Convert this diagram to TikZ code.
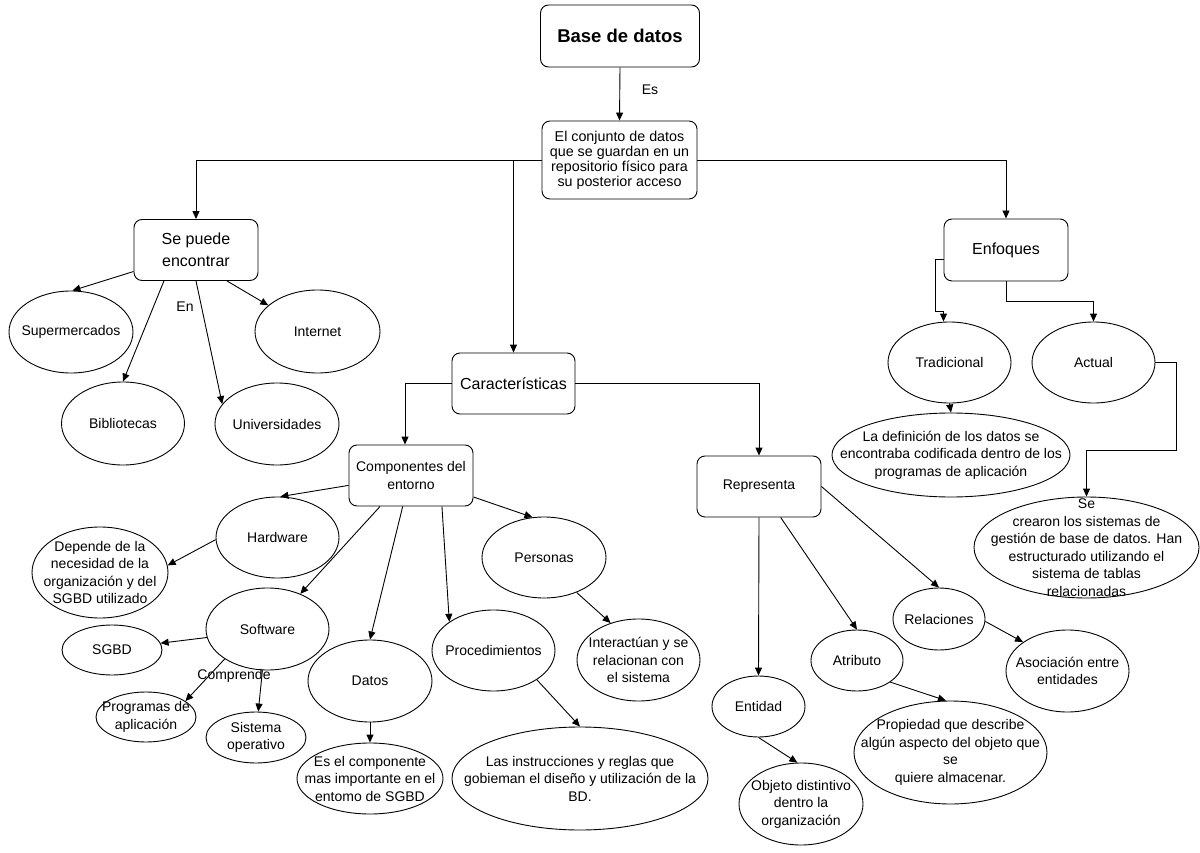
\documentclass[tikz,border=0pt]{standalone}
\usepackage{fontspec}
\setmainfont{Liberation Sans}
\usetikzlibrary{arrows.meta,shapes.geometric,calc}
\newcommand\ov[6]{%
  \node[oval, minimum width=#4pt, minimum height=#5pt] (#1) at (#2,#3) {};
  \node[txt] (#1t) at (#1.center) {#6};}
\begin{document}
\begin{tikzpicture}[x=1pt,y=-1pt,
  every node/.style={font=\fontsize{14}{17.5}\selectfont},
  rbox/.style={draw, rounded corners=8pt, align=center, inner sep=2pt, line width=0.9pt},
  oval/.style={draw, ellipse, inner sep=0pt, line width=0.9pt},
  txt/.style={align=center, inner sep=0pt},
  arr/.style={-{Triangle[length=8pt,width=7pt]}, line width=0.9pt},
  lbl/.style={inner sep=1pt}]
\useasboundingbox (0,0) rectangle (1200,853);
\fill[white] (0,0) rectangle (1200,853);

% boxes
\node[rbox, minimum width=159pt, minimum height=62pt, font=\bfseries\fontsize{18.5}{22}\selectfont] (base) at (620,36) {Base de datos};
\node[rbox, minimum width=155pt, minimum height=78pt, font=\fontsize{14.3}{15}\selectfont] (conj) at (619.5,160) {El conjunto de datos\\que se guardan en un\\repositorio físico para\\su posterior acceso};
\node[rbox, minimum width=124pt, minimum height=61pt, font=\fontsize{16}{22}\selectfont] (se) at (196,250) {Se puede\\encontrar};
\node[rbox, minimum width=123pt, minimum height=61pt, font=\fontsize{16}{20}\selectfont] (car) at (513.5,383.5) {Características};
\node[rbox, minimum width=124pt, minimum height=62pt, font=\fontsize{16}{20}\selectfont] (enf) at (1006,250) {Enfoques};
\node[rbox, minimum width=124pt, minimum height=61pt] (comp) at (411,475.5) {Componentes del\\entorno};
\node[rbox, minimum width=124pt, minimum height=61pt] (rep) at (759,486.5) {Representa};

% ellipses
\ov{super}{71}{332}{124}{82}{Supermercados}
\ov{bib}{123}{423.5}{123}{83}{Bibliotecas}
\ov{univ}{277}{424}{124}{82}{Universidades}
\ov{inet}{317.5}{331.5}{125}{83}{Internet}
\ov{hw}{277.5}{537.5}{123}{81}{Hardware}
\ov{dep}{100}{572.5}{136}{91}{Depende de la\\necesidad de la\\organización y del\\SGBD utilizado}
\ov{sw}{267.5}{629}{123}{82}{Software}
\ov{sgbd}{112}{650}{100}{50}{SGBD}
\ov{prog}{146}{717}{100}{50}{Programas de\\aplicación}
\ov{sis}{256}{737.5}{100}{51}{Sistema\\operativo}
\ov{datos}{370}{681}{124}{82}{Datos}
\ov{proc}{493.5}{650.5}{123}{81}{Procedimientos}
\ov{pers}{544}{557.5}{124}{81}{Personas}
\ov{inter}{638.5}{660}{123}{82}{Interactúan y se\\relacionan con\\el sistema}
\ov{escomp}{370}{778.5}{146}{71}{Es el componente\\mas importante en el\\entomo de SGBD}
\ov{inst}{580}{778.5}{256}{103}{Las instrucciones y reglas que\\gobieman el diseño y utilización de la\\BD.}
\ov{ent}{758.5}{706.5}{93}{61}{Entidad}
\ov{obj}{801}{804}{124}{82}{Objeto distintivo\\dentro la\\organización}
\ov{atr}{857}{660.5}{92}{61}{Atributo}
\ov{rel}{939}{619}{92}{62}{Relaciones}
\ov{aso}{1067.5}{671}{123}{82}{Asociación entre\\entidades}
\ov{prop}{950.5}{752.5}{193}{103}{Propiedad que describe\\algún aspecto del objeto que\\se\\quiere almacenar.}
\ov{secr}{1086.5}{547.5}{225}{101}{Se\\crearon los sistemas de\\gestión de base de datos. Han\\estructurado utilizando el\\sistema de tablas\\relacionadas}
\ov{trad}{949.5}{362.5}{123}{81}{Tradicional}
\ov{act}{1093.5}{362.5}{123}{81}{Actual}
\ov{def}{951}{455}{238}{84}{La definición de los datos se\\encontraba codificada dentro de los\\programas de aplicación}

% labels
\node[lbl] (es) at (650,90) {Es};
\node[lbl] (en) at (185,307) {En};
\node[lbl] (compr) at (234,676) {Comprende};

% connectors
\draw[arr] (base.south) -- (conj.north);
\draw[arr] (conj.west) -| (se.north);
\draw[arr] (conj.west) -| (car.north);
\draw[arr] (conj.east) -| (enf.north);
\draw[arr] (se.199) -- (super.88);
\draw[arr] (se.224) -- (bib.north);
\draw[arr] (se.south) -- (univ.160);
\draw[arr] (se.-45) -- (inet.152);
\draw[arr] (car.west) -| ([xshift=-6pt]comp.north);
\draw[arr] (car.east) -| (rep.north);
\draw[arr] (comp.189) -- (hw.86);
\draw[arr] (comp.225) -- (sw.47);
\draw[arr] (comp.255) -- (datos.north);
\draw[arr] (comp.-45) -- (proc.147);
\draw[arr] (comp.-19) -- (pers.106);
\draw[arr] (hw.182) -- (dep.6);
\draw[arr] (sw.188) -- (sgbd.8);
\draw[arr] (sw.215) -- (prog.22);
\draw[arr] (sw.263) -- (sis.85);
\draw[arr] (datos.south) -- (escomp.north);
\draw[arr] (proc.-34) -- (inst.north);
\draw[arr] (pers.-47) -- (inter.127);
\draw[arr] (rep.south) -- (ent.north);
\draw[arr] (rep.-55) -- (atr.north);
\draw[arr] (rep.east) -- (rel.north);
\draw[arr] (rel.-3) -- (aso.147);
\draw[arr] (atr.-33) -- (prop.95);
\draw[arr] (ent.south) -- (obj.95);
\coordinate (tk) at (935,311);
\draw[arr] (enf.189) -| (tk) -| ([xshift=-6pt]trad.north);
\draw[arr] (enf.south) -- ++(0,20) -| (act.north);
\coordinate (kt) at (1176,450);
\draw[arr] (act.east) -| (kt) -| (secr.north);
\draw[arr] (trad.south) -- (def.north);
\end{tikzpicture}
\end{document}
